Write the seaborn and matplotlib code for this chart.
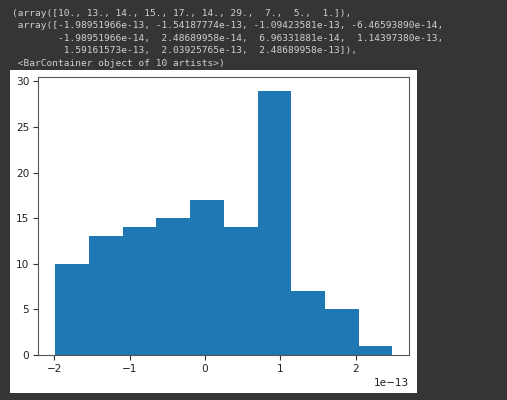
import numpy as np
import matplotlib
matplotlib.use("Agg")
from matplotlib import pyplot as plt
from matplotlib.patches import Rectangle
import seaborn as sns

# histogram counts and bin edges, as printed above the plot
counts = [10., 13., 14., 15., 17., 14., 29., 7., 5., 1.]
edges = [-1.98951966e-13, -1.54187774e-13, -1.09423581e-13, -6.46593890e-14,
         -1.98951966e-14, 2.48689958e-14, 6.96331881e-14, 1.14397380e-13,
         1.59161573e-13, 2.03925765e-13, 2.48689958e-13]
yticks = [0, 5, 10, 15, 20, 25, 30]

# notebook output text
out_lines = [
    "(array([10., 13., 14., 15., 17., 14., 29.,  7.,  5.,  1.]),",
    " array([-1.98951966e-13, -1.54187774e-13, -1.09423581e-13, -6.46593890e-14,",
    "        -1.98951966e-14,  2.48689958e-14,  6.96331881e-14,  1.14397380e-13,",
    "         1.59161573e-13,  2.03925765e-13,  2.48689958e-13]),",
    " <BarContainer object of 10 artists>)",
]

centers = [(a + b) / 2 for a, b in zip(edges[:-1], edges[1:])]

sns.set_style("ticks")
plt.rcParams["font.family"] = ["DejaVu Sans"]

fig = plt.figure(figsize=(5.07, 4.0), dpi=100, facecolor="#353535")
W, H = 507, 400

# white figure area of the inline plot
fig.patches.append(Rectangle((10 / W, 1 - 393 / H), 407 / W, 323 / H,
                             transform=fig.transFigure, facecolor="white",
                             edgecolor="none", zorder=-5))

for i, line in enumerate(out_lines):
    fig.text(12 / W, 1 - (13.3 + i * 12.5) / H, line, family="DejaVu Sans Mono",
             fontsize=6.8, color="#d0d0d0", va="center", ha="left")

ax = fig.add_axes([38.3 / W, 1 - 355 / H, 371 / W, 277.7 / H])
ax.set_zorder(2)
ax.set_facecolor("white")
sns.histplot(x=centers, weights=counts, bins=edges, ax=ax, color="#1f77b4",
             alpha=1, linewidth=0, edgecolor="none")
ax.set_xlim(edges[0] - 0.05 * (edges[-1] - edges[0]),
            edges[-1] + 0.05 * (edges[-1] - edges[0]))
ax.set_ylim(0, max(counts) * 1.05)
ax.set_yticks(yticks)
ax.set_ylabel("")
ax.set_xlabel("")
for s in ax.spines.values():
    s.set_visible(True)
    s.set_color("#555555")
    s.set_linewidth(0.8)
ax.tick_params(labelsize=7.6, length=3.5, width=0.8, color="#333333",
               labelcolor="#222222", pad=3)
ax.xaxis.get_offset_text().set_fontsize(7.6)
ax.xaxis.get_offset_text().set_color("#222222")

fig.savefig("out.png", dpi=100, facecolor=fig.get_facecolor())
